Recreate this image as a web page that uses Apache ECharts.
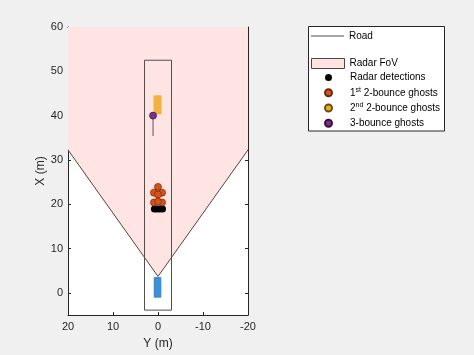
<!DOCTYPE html>
<html>
<head>
<meta charset="utf-8">
<script src="https://cdn.jsdelivr.net/npm/echarts@6/dist/echarts.min.js"></script>
<style>
html,body{margin:0;padding:0;background:#f0f0f0;}
#c{width:474px;height:355px;}
</style>
</head>
<body>
<div id="c"></div>
<script>
// ---- data (Y lateral [m], X longitudinal [m]) ----
const xTickLabels = [-20, -10, 0, 10, 20];
const yTickLabels = [0, 10, 20, 30, 40, 50, 60];
const roadY = [3, 3, -3, -3, 3];
const roadX = [-3.9, 52.5, 52.5, -3.9, -3.9];
const sensorY = 0, sensorX = 3.7, fovHalfAngle = 35, fovRange = 120;
// vehicles: [Ycenter, Xcenter, width, length]
const egoVehicle = [0.1, 1.25, 1.7, 4.7];
const ghostVehicle = [0.1, 42.45, 1.8, 4.3];
const detectionsY = [0.8, 0.2, -0.4, -1.0];
const detectionsX = [18.9, 18.9, 18.9, 18.9];
const ghost1Y = [0.0, 0.9, -0.9, 0.0, 0.9, -0.9, 0.0];
const ghost1X = [23.9, 22.6, 22.6, 22.2, 20.4, 20.4, 20.6];
const ghost2Y = [];
const ghost2X = [];
const ghost3Y = [1.1];
const ghost3X = [40.0];
const ghost3TrailY = [1.1, 1.1];
const ghost3TrailX = [40.0, 35.4];

const zip = (a, b) => a.map((v, i) => [v, b[i]]);

// FoV polygon from sensor parameters
const fovPoly = [[sensorY, sensorX]];
for (let a = -fovHalfAngle; a <= fovHalfAngle; a += 5) {
  const r = a * Math.PI / 180;
  fovPoly.push([sensorY + fovRange * Math.sin(r), sensorX + fovRange * Math.cos(r)]);
}

const FONT = '"Liberation Sans", Arial, Helvetica, sans-serif';
const AX = '#262626';
// legend circle icon: 7px circle centred in a 33x7 box
const CIRCLE_ICON = 'path://M0 0 M33 7 M13 3.5 A3.5 3.5 0 1 0 20 3.5 A3.5 3.5 0 1 0 13 3.5 Z';

const chart = echarts.init(document.getElementById('c'), null, {renderer: 'canvas'});

function rectRender(color) {
  return function (params, api) {
    const yc = api.value(0), xc = api.value(1), w = api.value(2), l = api.value(3);
    const p1 = api.coord([yc + w / 2, xc + l / 2]);
    const p2 = api.coord([yc - w / 2, xc - l / 2]);
    return {
      type: 'rect',
      shape: {x: Math.min(p1[0], p2[0]), y: Math.min(p1[1], p2[1]),
              width: Math.abs(p2[0] - p1[0]), height: Math.abs(p2[1] - p1[1]), r: 1},
      style: {fill: color}
    };
  };
}

const baseAxisLine = {show: true, onZero: false, lineStyle: {color: AX, width: 1}};
const option = {
  backgroundColor: '#f0f0f0',
  animation: false,
  textStyle: {fontFamily: FONT},
  grid: {left: 68, right: 226, top: 27, bottom: 40, show: true, backgroundColor: '#ffffff', borderWidth: 0},
  xAxis: [{
    type: 'value', min: -20, max: 20, inverse: true, position: 'bottom',
    axisLine: baseAxisLine,
    axisTick: {inside: true, length: 3, lineStyle: {color: AX}, customValues: xTickLabels},
    axisLabel: {color: AX, fontSize: 11, margin: 6, fontFamily: FONT, customValues: xTickLabels},
    splitLine: {show: false},
    name: 'Y (m)', nameLocation: 'middle', nameGap: 23,
    nameTextStyle: {color: AX, fontSize: 12, fontFamily: FONT}
  }, {
    type: 'value', min: -20, max: 20, inverse: true, position: 'top',
    axisLine: baseAxisLine,
    axisTick: {inside: true, length: 3, lineStyle: {color: AX}, customValues: xTickLabels},
    axisLabel: {show: false}, splitLine: {show: false}
  }],
  yAxis: [{
    type: 'value', min: -5, max: 60, position: 'left',
    axisLine: baseAxisLine,
    axisTick: {inside: true, length: 3, lineStyle: {color: AX}, customValues: yTickLabels},
    axisLabel: {color: AX, fontSize: 11, margin: 5, fontFamily: FONT, customValues: yTickLabels},
    splitLine: {show: false},
    name: 'X (m)', nameLocation: 'middle', nameGap: 21, nameRotate: 90,
    nameTextStyle: {color: AX, fontSize: 12, fontFamily: FONT}
  }, {
    type: 'value', min: -5, max: 60, position: 'right',
    axisLine: baseAxisLine,
    axisTick: {inside: true, length: 3, lineStyle: {color: AX}, customValues: yTickLabels},
    axisLabel: {show: false}, splitLine: {show: false}
  }],
  graphic: [{
    type: 'rect', z: 1,
    shape: {x: 308.5, y: 26.5, width: 136, height: 104.5},
    style: {fill: '#ffffff', stroke: AX, lineWidth: 1}
  }],
  legend: [{
    orient: 'vertical', left: 311, top: 30, padding: 0, itemWidth: 33, itemHeight: 12,
    itemGap: 0, z: 5,
    textStyle: {fontSize: 10, color: '#000', fontFamily: FONT, lineHeight: 12},
    data: [{name: 'Road', icon: 'path://M0 0 M33 12 M0 5.6 L33 5.6 L33 6.4 L0 6.4 Z',
            itemStyle: {color: '#505050', borderWidth: 0}}]
  }, {
    orient: 'vertical', left: 311, top: 57.5, padding: 0, itemWidth: 33, itemHeight: 10,
    itemGap: 0, z: 5,
    textStyle: {fontSize: 10, color: '#000', fontFamily: FONT, lineHeight: 12},
    data: [{name: 'Radar FoV', icon: 'rect', itemStyle: {color: '#ffe4e4', borderColor: '#5a4040', borderWidth: 1}}]
  }, {
    orient: 'vertical', left: 311, top: 70, padding: 0, itemWidth: 33, itemHeight: 7,
    itemGap: 0, z: 5,
    textStyle: {fontSize: 10, color: '#000', fontFamily: FONT, lineHeight: 15.2,
      rich: {sup: {fontSize: 7, lineHeight: 15.2, verticalAlign: 'top', padding: [1, 0, 0, 0], fontFamily: FONT, color: '#000'}}},
    formatter: function (name) {
      if (name === '1st 2-bounce ghosts') return '1{sup|st} 2-bounce ghosts';
      if (name === '2nd 2-bounce ghosts') return '2{sup|nd} 2-bounce ghosts';
      return name;
    },
    data: [
      {name: 'Radar detections', icon: CIRCLE_ICON},
      {name: '1st 2-bounce ghosts', icon: CIRCLE_ICON},
      {name: '2nd 2-bounce ghosts', icon: CIRCLE_ICON},
      {name: '3-bounce ghosts', icon: CIRCLE_ICON}
    ]
  }],
  series: [
    {
      name: 'Radar FoV', type: 'custom', clip: true, z: 1,
      itemStyle: {color: '#ffe4e4', borderColor: '#5a4040'},
      data: [0],
      renderItem: function (params, api) {
        const pts = fovPoly.map(p => api.coord(p));
        return {type: 'polygon', shape: {points: pts},
          style: {fill: '#ffe4e4', stroke: '#5a4040', lineWidth: 1}};
      }
    },
    {
      name: 'Road', type: 'line', z: 2, symbol: 'none', showSymbol: false, clip: true,
      data: zip(roadY, roadX),
      lineStyle: {color: '#505050', width: 1},
      itemStyle: {color: '#505050'}
    },
    {
      name: 'ego', type: 'custom', z: 3, clip: true,
      data: [egoVehicle], renderItem: rectRender('#3d8fd6')
    },
    {
      name: 'ghostVehicle', type: 'custom', z: 3, clip: true,
      data: [ghostVehicle], renderItem: rectRender('#f1b242')
    },
    {
      name: 'trail3', type: 'line', z: 3, symbol: 'none',
      data: zip(ghost3TrailY, ghost3TrailX),
      lineStyle: {color: '#5e5060', width: 1}
    },
    {
      name: 'Radar detections', type: 'scatter', z: 4, symbolSize: 7,
      data: zip(detectionsY, detectionsX),
      itemStyle: {color: '#000000', opacity: 1}
    },
    {
      name: '1st 2-bounce ghosts', type: 'scatter', z: 4, symbolSize: 7,
      data: zip(ghost1Y, ghost1X),
      itemStyle: {color: '#D95319', borderColor: '#6a2a0c', borderWidth: 0.7, opacity: 1}
    },
    {
      name: '2nd 2-bounce ghosts', type: 'scatter', z: 4, symbolSize: 7,
      data: zip(ghost2Y, ghost2X),
      itemStyle: {color: '#EDB120', borderColor: '#6a5010', borderWidth: 0.7, opacity: 1}
    },
    {
      name: '3-bounce ghosts', type: 'scatter', z: 4, symbolSize: 7,
      data: zip(ghost3Y, ghost3X),
      itemStyle: {color: '#7E2F8E', borderColor: '#3a1040', borderWidth: 0.7, opacity: 1}
    }
  ]
};
chart.setOption(option);
</script>
</body>
</html>
